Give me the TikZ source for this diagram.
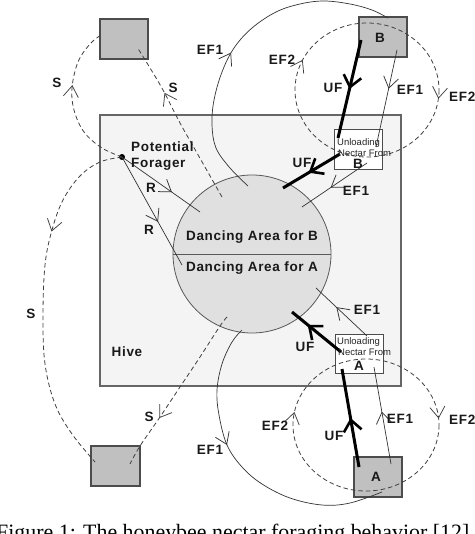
\documentclass[tikz,border=0pt]{standalone}
\usepackage{fontspec}
\setmainfont{Liberation Sans}
\newfontfamily\labfont[LetterSpace=5]{Liberation Sans}
\newfontfamily\capfont{Liberation Serif}
\usetikzlibrary{arrows.meta,decorations.markings}
\definecolor{hivefill}{RGB}{244,244,244}
\definecolor{dancefill}{RGB}{224,224,224}
\definecolor{sqfill}{RGB}{192,192,192}
\tikzset{
 lab/.style={font=\fontsize{13.5}{13.5}\selectfont\labfont\bfseries, inner sep=0pt, text=black!90},
 smalltxt/.style={font=\fontsize{9.5}{10}\selectfont, inner sep=0pt, text=black!85},
 thinl/.style={draw=black!80, line width=0.7pt},
 dashl/.style={draw=black!75, line width=0.8pt, dash pattern=on 4.5pt off 3pt},
 thickl/.style={draw=black, line width=3pt},
 barb/.style={postaction={decorate, decoration={markings, mark=at position #1 with {\arrow{Straight Barb[length=11pt,width=15pt,line width=0.75pt]}}}}},
 tbarb/.style={postaction={decorate, decoration={markings, mark=at position #1 with {\arrow{Straight Barb[length=11pt,width=18pt,line width=2.6pt]}}}}},
 sq/.style={draw=black!70, fill=sqfill, line width=1.2pt, minimum width=48pt, minimum height=40pt, inner sep=0pt},
 ubox/.style={draw=black!70, fill=white, line width=0.8pt, minimum width=48pt, minimum height=39pt, inner sep=0pt},
}
\begin{document}
\begin{tikzpicture}[x=1pt,y=-1pt]
\useasboundingbox (0,0) rectangle (474,534);
\clip (0,0) rectangle (474,534);
% hive and dancing area
\node[draw=black!60, fill=hivefill, line width=1.3pt, minimum width=301pt, minimum height=271pt, inner sep=0pt] (hive) at (250.5,250.5) {};
\node[circle, draw=black!65, fill=dancefill, line width=0.8pt, minimum size=158pt, inner sep=0pt] (dance) at (252,254) {};
\draw[black!65, line width=0.8pt] (dance.west) -- (dance.east);
% food sources and boxes
\node[sq] (s1) at (124,39) {};
\node[sq, minimum width=49pt] (s2) at (115.5,466) {};
\node[sq] (sB) at (383,37) {};
\node[sq] (sA) at (378,477) {};
\node[ubox, minimum height=40pt] (uB) at (358,149) {};
\node[ubox] (uA) at (359,353.5) {};
\node[circle, fill=black, inner sep=0pt, minimum size=6pt] (fg) at (122,157) {};
% coordinates
\coordinate (ta0) at (248,186); \coordinate (ta1) at (388,18);
\coordinate (ba0) at (242,330); \coordinate (ba1) at (382,492);
\coordinate (cB) at (439,90); \coordinate (cA) at (439,425);
\coordinate (uf1s) at (361,40); \coordinate (uf1e) at (338,138);
\coordinate (uf2s) at (340,154); \coordinate (uf2e) at (283,188);
\coordinate (ufa1s) at (359,467); \coordinate (ufa1e) at (342,369);
\coordinate (ufa2s) at (341,352); \coordinate (ufa2e) at (292,312);
\coordinate (eb1s) at (397,50); \coordinate (eb1e) at (376,147);
\coordinate (eb2s) at (367,163); \coordinate (eb2e) at (302,207);
\coordinate (ea1s) at (391,464); \coordinate (ea1e) at (374,367);
\coordinate (ea2s) at (367,336); \coordinate (ea2e) at (316,288);
\coordinate (r1e) at (200,212); \coordinate (r2e) at (182,265);
\coordinate (s1e) at (101,35);
\coordinate (s2s) at (222,197); \coordinate (s2e) at (137,47);
\coordinate (s3e) at (95,462);
\coordinate (s4s) at (227,317); \coordinate (s4e) at (130,464);
% big solid arcs
\draw[thinl, barb=0.456] plot[smooth, tension=0.6] coordinates {(ta0) (230,168) (216,148) (212,125) (214,100) (222,72) (234,48) (252,28) (276,12) (300,4) (324,1) (350,4) (372,10) (ta1)};
\draw[thinl, barb=0.406] plot[smooth, tension=0.6] coordinates {(ba0) (232,342) (222,364) (217,390) (219,415) (227,445) (242,467) (262,484) (290,498) (322,505) (350,503) (ba1)};
% dashed EF2 loops
\draw[dashl, barb=0.02, barb=0.572] (cB) arc[start angle=0, end angle=360, x radius=72, y radius=67];
\draw[dashl, barb=0.985, barb=0.53] (cA) arc[start angle=0, end angle=360, x radius=73, y radius=66];
% UF
\draw[thickl, tbarb=0.5] (uf1s) -- (uf1e);
\draw[thickl, tbarb=0.55] (uf2s) -- (uf2e);
\draw[thickl, tbarb=0.5] (ufa1s) -- (ufa1e);
\draw[thickl, tbarb=0.68] (ufa2s) -- (ufa2e);
% EF1 straight
\draw[thinl, barb=0.4] (eb1s) -- (eb1e);
\draw[thinl, barb=0.56] (eb2s) -- (eb2e);
\draw[thinl, barb=0.54] (ea1s) -- (ea1e);
\draw[thinl, barb=0.6] (ea2s) -- (ea2e);
% R
\draw[thinl, barb=0.64] (fg.center) -- (r1e);
\draw[thinl, barb=0.6] (fg.center) -- (r2e);
% S
\draw[dashl, barb=0.615] plot[smooth, tension=0.6] coordinates {(fg.center) (102,148) (84,132) (74,110) (72,88) (78,62) (90,44) (s1e)};
\draw[dashl, barb=0.69] plot[smooth, tension=0.6] coordinates {(s2s) (197,153) (180,123) (163,90) (147,63) (s2e)};
\draw[dashl, barb=0.31] plot[smooth, tension=0.6] coordinates {(fg.center) (100,162) (80,176) (63,200) (52,230) (45,265) (43,317) (45,364) (55,404) (72,434) (s3e)};
\draw[dashl, barb=0.69] plot[smooth, tension=0.6] coordinates {(s4s) (220,326) (200,357) (180,387) (160,417) (140,446) (s4e)};
% texts
\node[lab] (tB) at (380,38) {B};
\node[lab] (tA) at (376,477) {A};
\node[smalltxt, anchor=west] (ub1) at (337,143) {Unloading};
\node[smalltxt, anchor=west] (ub2) at (338,153) {Nectar From};
\node[lab] (ub3) at (358,164) {B};
\node[smalltxt, anchor=west] (ua1) at (337,342) {Unloading};
\node[smalltxt, anchor=west] (ua2) at (338,352) {Nectar From};
\node[lab] (ua3) at (359,366) {A};
\node[lab] (dB) at (252,237) {Dancing Area for B};
\node[lab] (dA) at (252,268) {Dancing Area for A};
\node[lab, anchor=west] (pf1) at (131,147) {Potential};
\node[lab, anchor=west] (pf2) at (131,164) {Forager};
\node[lab] (hv) at (127,352) {Hive};
\node[lab] (lS1) at (57,83) {S};
\node[lab] (lS2) at (173,88) {S};
\node[lab] (lS3) at (31,314) {S};
\node[lab] (lS4) at (149,417) {S};
\node[lab] (lR1) at (151,188) {R};
\node[lab] (lR2) at (149,230) {R};
\node[lab] (le1) at (210,50) {EF1};
\node[lab] (le2) at (282,60) {EF2};
\node[lab] (lu1) at (333,88) {UF};
\node[lab] (le3) at (410,90) {EF1};
\node[lab, anchor=west] (le4) at (449,97) {EF2};
\node[lab] (lu2) at (302,163) {UF};
\node[lab] (le5) at (356,191) {EF1};
\node[lab] (le6) at (367,310) {EF1};
\node[lab] (lu3) at (305,347) {UF};
\node[lab] (le7) at (275,426) {EF2};
\node[lab] (lu4) at (334,436) {UF};
\node[lab] (le8) at (400,419) {EF1};
\node[lab, anchor=west] (le9) at (449,420) {EF2};
\node[lab] (le10) at (210,450) {EF1};
\node[anchor=base west, inner sep=0pt, font=\capfont\fontsize{21.9}{22}\selectfont] (cap) at (-4,539.5) {Figure 1: The honeybee nectar foraging behavior [12]};
\end{tikzpicture}
\end{document}
